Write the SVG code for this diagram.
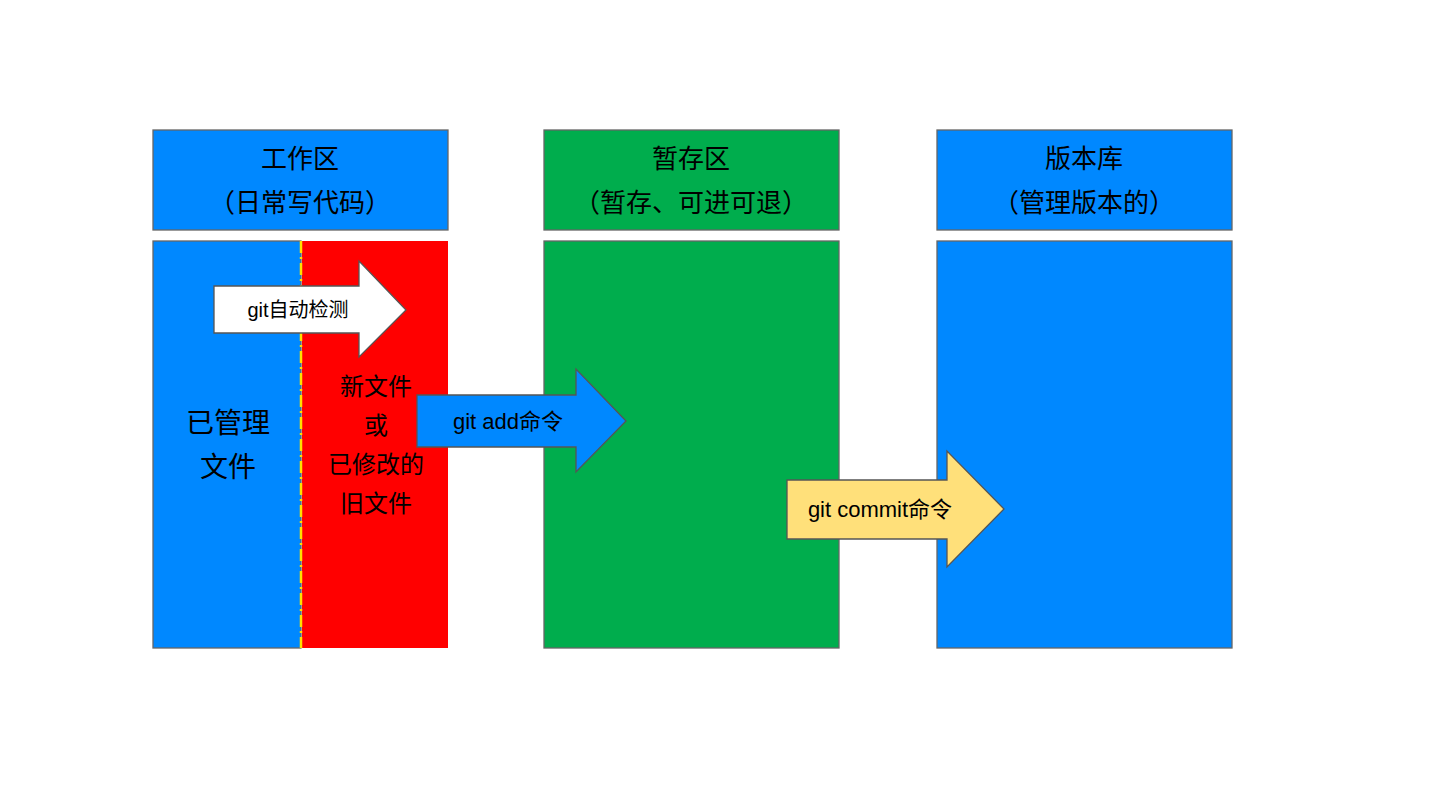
<svg xmlns="http://www.w3.org/2000/svg" width="1440" height="789" viewBox="0 0 1440 789">
<style>
.b{stroke:#666;stroke-width:1.3}
.t{font-family:"Liberation Sans","Noto Sans CJK SC",sans-serif;fill:#000;text-anchor:middle}
.a{stroke:#555;stroke-width:1.3}
</style>
<rect width="1440" height="789" fill="#fff"/>
<g id="work-header"><rect class="b" x="153" y="130" width="295" height="100" fill="#0088ff"/>
<text class="t" x="300" y="168" font-size="26">工作区</text><text class="t" x="300" y="212" font-size="26">（日常写代码）</text></g>
<g id="stage-header"><rect class="b" x="544" y="130" width="295" height="100" fill="#00ad4d"/>
<text class="t" x="691" y="168" font-size="26">暂存区</text><text class="t" x="691" y="212" font-size="26">（暂存、可进可退）</text></g>
<g id="repo-header"><rect class="b" x="937" y="130" width="295" height="100" fill="#0088ff"/>
<text class="t" x="1084" y="168" font-size="26">版本库</text><text class="t" x="1084" y="212" font-size="26">（管理版本的）</text></g>
<g id="managed"><rect class="b" x="153" y="241" width="148" height="407" fill="#0088ff"/>
<text class="t" x="228" y="433" font-size="28">已管理</text><text class="t" x="228" y="477" font-size="28">文件</text></g>
<g id="new-files"><rect x="302" y="241" width="146" height="407" fill="#ff0000"/>
<line x1="301" y1="241" x2="301" y2="648" stroke="#ffe000" stroke-width="2.5" stroke-dasharray="12,4,2,4"/>
<text class="t" x="376" y="395" font-size="24">新文件</text><text class="t" x="376" y="434" font-size="24">或</text>
<text class="t" x="376" y="473" font-size="24">已修改的</text><text class="t" x="376" y="512" font-size="24">旧文件</text></g>
<g id="stage"><rect class="b" x="544" y="241" width="295" height="407" fill="#00ad4d"/></g>
<g id="repo"><rect class="b" x="937" y="241" width="295" height="407" fill="#0088ff"/></g>
<g id="connectors">
<g id="auto-detect"><path class="a" d="M214 286H359V261L406 310L359 357V333H214Z" fill="#fff"/>
<text class="t" x="298" y="317" font-size="20">git自动检测</text></g>
<g id="git-add"><path class="a" d="M417 395H576V369L626 421L576 472V447H417Z" fill="#0088ff"/>
<text class="t" x="508" y="429" font-size="22">git add命令</text></g>
<g id="git-commit"><path class="a" d="M787 480H947V451L1004 509L947 567V539H787Z" fill="#ffe07a"/>
<text class="t" x="880" y="517" font-size="22">git commit命令</text></g>
</g>
</svg>
